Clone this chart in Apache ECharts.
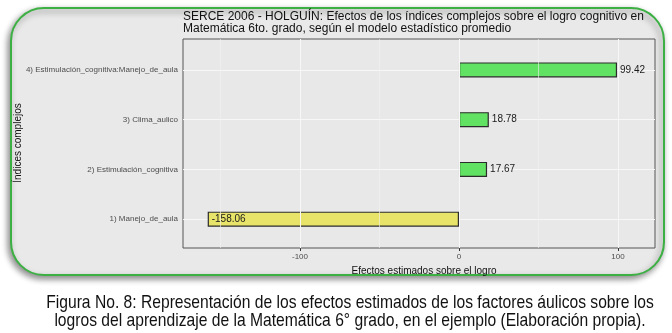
<!DOCTYPE html>
<html>
<head>
<meta charset="utf-8">
<script src="https://cdn.jsdelivr.net/npm/echarts@6/dist/echarts.min.js"></script>
<style>
  html, body { margin: 0; padding: 0; background: #ffffff; }
  #chart { width: 672px; height: 333px; }
</style>
</head>
<body>
<div id="chart"></div>
<script>
// Índices complejos and their estimated effects on the maths score
const categories = [
  '1) Manejo_de_aula',
  '2) Estimulación_cognitiva',
  '3) Clima_aulico',
  '4) Estimulación_cognitiva:Manejo_de_aula'
];
const effects = [-158.06, 17.67, 18.78, 99.42];

// x-axis ticks (major) and the minor grid lines between them
const xTicks = [-100, 0, 100];
const xMinor = [-150, -50, 50];

const xMin = -173.6;
const xMax = 123.3;

const titleLines = [
  'SERCE 2006 - HOLGUÍN: Efectos de los índices complejos sobre el logro cognitivo en',
  'Matemática 6to. grado, según el modelo estadístico promedio'
];
const xName = 'Efectos estimados sobre el logro';
const yName = 'Índices complejos';
const captionLines = [
  'Figura No. 8: Representación de los efectos estimados de los factores áulicos sobre los',
  'logros del aprendizaje de la Matemática 6° grado, en el ejemplo (Elaboración propia).'
];

const FONT = '"Liberation Sans", Arial, sans-serif';
const GREEN = '#62e262';
const YELLOW = '#e8e46a';
const PANEL = '#e8e8e8';

const chart = echarts.init(document.getElementById('chart'), null, { renderer: 'canvas' });

const barData = effects.map(function (v) {
  return {
    value: v,
    itemStyle: { color: v < 0 ? YELLOW : GREEN },
    label: v < 0
      ? { position: 'insideLeft', distance: 4 }
      : { position: 'right', distance: 3 }
  };
});

const majorLine = { color: '#f7f7f7', width: 1, type: 'solid' };
const minorLine = { color: '#f1f1f1', width: 0.6, type: 'solid' };

// caption under the figure, set in a condensed face
function captionLine(text, y) {
  return {
    type: 'text',
    x: 350,
    y: y,
    scaleX: 0.823,
    style: {
      text: text,
      fontFamily: FONT,
      fontSize: 19,
      fill: '#111111',
      align: 'center',
      verticalAlign: 'middle'
    }
  };
}

chart.setOption({
  animation: false,
  backgroundColor: '#ffffff',
  textStyle: { fontFamily: FONT },
  title: {
    text: titleLines.join('\n'),
    left: 183,
    top: 11,
    padding: 0,
    textStyle: {
      fontFamily: FONT,
      fontSize: 12,
      fontWeight: 'normal',
      color: '#111111',
      lineHeight: 12
    }
  },
  graphic: [
    {
      type: 'rect',
      z: -10,
      shape: { x: 11, y: 8, width: 653, height: 267, r: 33 },
      style: {
        fill: '#e9e9e9',
        stroke: '#3cb043',
        lineWidth: 2,
        shadowBlur: 6,
        shadowColor: 'rgba(0,0,0,0.45)',
        shadowOffsetX: -2,
        shadowOffsetY: 3
      }
    },
    {
      type: 'text',
      x: 18,
      y: 143,
      rotation: Math.PI / 2,
      style: {
        text: yName,
        fontFamily: FONT,
        fontSize: 10,
        fill: '#111111',
        align: 'center',
        verticalAlign: 'middle'
      }
    },
    captionLine(captionLines[0], 303),
    captionLine(captionLines[1], 321)
  ],
  grid: [
    {
      // plotting panel: background, border, x axis
      left: 183, top: 39, width: 472, height: 209,
      show: true,
      backgroundColor: PANEL,
      borderColor: '#555555',
      borderWidth: 1,
      z: 1
    },
    {
      // category bands for the bars
      left: 183, top: 45, width: 472, height: 199,
      show: false,
      z: 2
    }
  ],
  xAxis: [
    {
      gridIndex: 0,
      type: 'value',
      min: xMin,
      max: xMax,
      axisLine: { show: false },
      axisTick: {
        show: true,
        length: 3,
        customValues: xTicks,
        lineStyle: { color: '#333333', width: 1 }
      },
      axisLabel: {
        show: true,
        customValues: xTicks,
        fontSize: 8,
        color: '#4d4d4d',
        margin: 5,
        fontFamily: FONT
      },
      splitLine: { show: false },
      name: xName,
      nameLocation: 'middle',
      nameGap: 16,
      nameTextStyle: {
        fontFamily: FONT,
        fontSize: 10,
        color: '#111111',
        padding: [0, 0, 0, 10]
      }
    },
    {
      gridIndex: 1,
      type: 'value',
      min: xMin,
      max: xMax,
      show: false,
      splitLine: { show: false }
    }
  ],
  yAxis: [
    {
      gridIndex: 0,
      type: 'value',
      min: 0,
      max: 1,
      show: false,
      splitLine: { show: false }
    },
    {
      gridIndex: 1,
      type: 'category',
      data: categories,
      axisLine: { show: false },
      axisTick: {
        show: true,
        alignWithLabel: true,
        length: 3,
        lineStyle: { color: '#333333', width: 1 }
      },
      axisLabel: {
        fontSize: 8,
        color: '#4d4d4d',
        margin: 5,
        fontFamily: FONT
      },
      splitLine: { show: false }
    }
  ],
  series: [
    {
      // vertical grid lines of the panel
      type: 'line',
      xAxisIndex: 0,
      yAxisIndex: 0,
      data: [[0, 0.5]],
      showSymbol: false,
      lineStyle: { opacity: 0 },
      silent: true,
      markLine: {
        silent: true,
        symbol: ['none', 'none'],
        label: { show: false },
        animation: false,
        data: xMinor.map(function (v) { return { xAxis: v, lineStyle: minorLine }; })
          .concat(xTicks.map(function (v) { return { xAxis: v, lineStyle: majorLine }; }))
      }
    },
    {
      type: 'bar',
      xAxisIndex: 1,
      yAxisIndex: 1,
      barWidth: 15,
      data: barData,
      itemStyle: { borderColor: '#2b2b2b', borderWidth: 1.2 },
      label: {
        show: true,
        fontSize: 10,
        color: '#1a1a1a',
        fontFamily: FONT,
        formatter: function (p) { return p.value.toFixed(2); }
      },
      markLine: {
        silent: true,
        symbol: ['none', 'none'],
        label: { show: false },
        animation: false,
        z: 1,
        data: categories.map(function (c) { return { yAxis: c, lineStyle: majorLine }; })
      }
    }
  ]
});
</script>
</body>
</html>
